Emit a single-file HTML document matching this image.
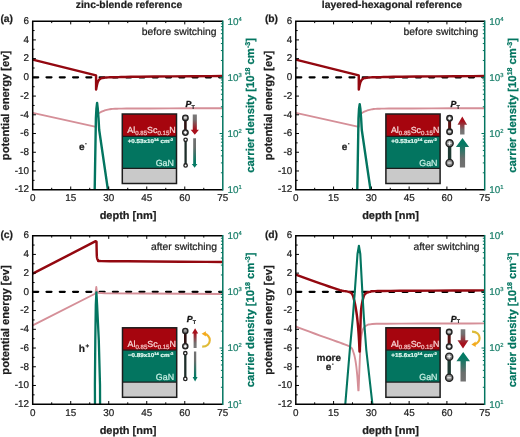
<!DOCTYPE html>
<html><head><meta charset="utf-8"><style>
html,body{margin:0;padding:0;background:#fff;}
svg{display:block;}
</style></head><body>
<svg width="520" height="437" viewBox="0 0 520 437" text-rendering="geometricPrecision" font-family='"Liberation Sans", Arial, sans-serif'>
<rect width="520" height="437" fill="#fff"/>
<defs>
<clipPath id="clipa"><rect x="32.7" y="21.2" width="190.1" height="168.5"/></clipPath>
<clipPath id="clipb"><rect x="295.8" y="21.2" width="188.9" height="168.5"/></clipPath>
<clipPath id="clipc"><rect x="32.7" y="235.7" width="190.1" height="168.5"/></clipPath>
<clipPath id="clipd"><rect x="295.8" y="235.7" width="188.9" height="168.5"/></clipPath>
<linearGradient id="gRedDown" x1="0" y1="0" x2="0" y2="1"><stop offset="0" stop-color="#7a7a7a"/><stop offset="0.25" stop-color="#747070"/><stop offset="0.75" stop-color="#a8101c"/></linearGradient>
<linearGradient id="gRedUp" x1="0" y1="1" x2="0" y2="0"><stop offset="0" stop-color="#7a7a7a"/><stop offset="0.25" stop-color="#747070"/><stop offset="0.75" stop-color="#a8101c"/></linearGradient>
<linearGradient id="gTealDown" x1="0" y1="0" x2="0" y2="1"><stop offset="0" stop-color="#727272"/><stop offset="0.3" stop-color="#6a6e6c"/><stop offset="0.8" stop-color="#057a64"/></linearGradient>
<linearGradient id="gTealUp" x1="0" y1="1" x2="0" y2="0"><stop offset="0" stop-color="#727272"/><stop offset="0.3" stop-color="#6a6e6c"/><stop offset="0.8" stop-color="#057a64"/></linearGradient>
<linearGradient id="gCurl" gradientUnits="userSpaceOnUse" x1="0" y1="0" x2="0" y2="13"><stop offset="0" stop-color="#dcbc3a"/><stop offset="1" stop-color="#f4ae22"/></linearGradient>
<radialGradient id="gAtom" cx="0.45" cy="0.4" r="0.6"><stop offset="0" stop-color="#b4b4b4"/><stop offset="1" stop-color="#5e5e5e"/></radialGradient>
</defs>
<g clip-path="url(#clipa)">
<line x1="33.27" y1="77.37" x2="222.8" y2="77.37" stroke="#000" stroke-width="2.3" stroke-linecap="round" stroke-dasharray="4.9,8.38"/>
<polyline points="32.7,112.94 96.07,126.89 96.3,114.8 96.56,115.01 96.92,114.74 97.35,114.42 97.79,114.1 98.2,113.8 98.56,113.54 98.91,113.28 99.27,113.02 99.66,112.76 100.1,112.5 100.58,112.23 101.09,111.95 101.65,111.67 102.28,111.39 103,111.1 103.82,110.8 104.71,110.47 105.69,110.15 106.75,109.86 107.9,109.6 108.97,109.39 109.96,109.21 111.13,109.05 112.72,108.92 115,108.8 117.09,108.71 118.82,108.64 121.5,108.6 126.45,108.55 135,108.5 149.63,108.44 169.45,108.37 190.75,108.3 209.77,108.24 222.8,108.2" fill="none" stroke="#d58f98" stroke-width="1.9" stroke-linejoin="round" stroke-linecap="butt" />
<polyline points="32.7,59.67 96.07,75.4 96.1,89.6 96.29,88.6 96.54,87.15 96.86,85.5 97.21,83.9 97.6,82.6 97.99,81.61 98.4,80.77 98.86,80.05 99.42,79.43 100.1,78.9 100.88,78.47 101.73,78.16 102.7,77.94 103.84,77.76 105.2,77.6 106.62,77.46 108.05,77.38 109.76,77.32 111.99,77.27 115,77.2 118.1,77.11 121.13,77.02 125.11,76.92 131.06,76.81 140,76.7 154.19,76.56 172.93,76.4 192.87,76.24 210.61,76.1 222.8,76" fill="none" stroke="#930810" stroke-width="2.45" stroke-linejoin="round" stroke-linecap="butt" />
<polyline points="94.6,195 94.7,189 95.7,130 95.9,118 96.4,109 97.1,103 97.8,109 98.5,118 99.2,130 107.8,189 108.7,195" fill="none" stroke="#037560" stroke-width="2.4" stroke-linejoin="round" stroke-linecap="butt" />
</g>
<path d="M51.71,189.7v-1.9 M51.71,21.2v1.9 M70.72,189.7v-3.2 M70.72,21.2v3.2 M89.73,189.7v-1.9 M89.73,21.2v1.9 M108.74,189.7v-3.2 M108.74,21.2v3.2 M127.75,189.7v-1.9 M127.75,21.2v1.9 M146.76,189.7v-3.2 M146.76,21.2v3.2 M165.77,189.7v-1.9 M165.77,21.2v1.9 M184.78,189.7v-3.2 M184.78,21.2v3.2 M203.79,189.7v-1.9 M203.79,21.2v1.9 M32.7,180.34h1.9 M32.7,170.98h3.2 M32.7,161.62h1.9 M32.7,152.26h3.2 M32.7,142.89h1.9 M32.7,133.53h3.2 M32.7,124.17h1.9 M32.7,114.81h3.2 M32.7,105.45h1.9 M32.7,96.09h3.2 M32.7,86.73h1.9 M32.7,77.37h3.2 M32.7,68.01h1.9 M32.7,58.64h3.2 M32.7,49.28h1.9 M32.7,39.92h3.2 M32.7,30.56h1.9" stroke="#000" stroke-width="1" fill="none"/>
<path d="M222.8,172.79h-1.9 M222.8,162.9h-1.9 M222.8,155.88h-1.9 M222.8,150.44h-1.9 M222.8,145.99h-1.9 M222.8,142.23h-1.9 M222.8,138.98h-1.9 M222.8,136.1h-1.9 M222.8,133.53h-3.2 M222.8,116.63h-1.9 M222.8,106.74h-1.9 M222.8,99.72h-1.9 M222.8,94.27h-1.9 M222.8,89.83h-1.9 M222.8,86.07h-1.9 M222.8,82.81h-1.9 M222.8,79.94h-1.9 M222.8,77.37h-3.2 M222.8,60.46h-1.9 M222.8,50.57h-1.9 M222.8,43.55h-1.9 M222.8,38.11h-1.9 M222.8,33.66h-1.9 M222.8,29.9h-1.9 M222.8,26.64h-1.9 M222.8,23.77h-1.9" stroke="#037560" stroke-width="1" fill="none"/>
<text x="29.1" y="192.45" text-anchor="end" font-size="9.9" fill="#1e1e1e" stroke="#1e1e1e" stroke-width="0.22">-12</text>
<text x="29.1" y="173.73" text-anchor="end" font-size="9.9" fill="#1e1e1e" stroke="#1e1e1e" stroke-width="0.22">-10</text>
<text x="29.1" y="155.01" text-anchor="end" font-size="9.9" fill="#1e1e1e" stroke="#1e1e1e" stroke-width="0.22">-8</text>
<text x="29.1" y="136.28" text-anchor="end" font-size="9.9" fill="#1e1e1e" stroke="#1e1e1e" stroke-width="0.22">-6</text>
<text x="29.1" y="117.56" text-anchor="end" font-size="9.9" fill="#1e1e1e" stroke="#1e1e1e" stroke-width="0.22">-4</text>
<text x="29.1" y="98.84" text-anchor="end" font-size="9.9" fill="#1e1e1e" stroke="#1e1e1e" stroke-width="0.22">-2</text>
<text x="29.1" y="80.12" text-anchor="end" font-size="9.9" fill="#1e1e1e" stroke="#1e1e1e" stroke-width="0.22">0</text>
<text x="29.1" y="61.39" text-anchor="end" font-size="9.9" fill="#1e1e1e" stroke="#1e1e1e" stroke-width="0.22">2</text>
<text x="29.1" y="42.67" text-anchor="end" font-size="9.9" fill="#1e1e1e" stroke="#1e1e1e" stroke-width="0.22">4</text>
<text x="29.1" y="23.95" text-anchor="end" font-size="9.9" fill="#1e1e1e" stroke="#1e1e1e" stroke-width="0.22">6</text>
<text x="32.7" y="201.1" text-anchor="middle" font-size="9.9" fill="#1e1e1e" stroke="#1e1e1e" stroke-width="0.22">0</text>
<text x="70.72" y="201.1" text-anchor="middle" font-size="9.9" fill="#1e1e1e" stroke="#1e1e1e" stroke-width="0.22">15</text>
<text x="108.74" y="201.1" text-anchor="middle" font-size="9.9" fill="#1e1e1e" stroke="#1e1e1e" stroke-width="0.22">30</text>
<text x="146.76" y="201.1" text-anchor="middle" font-size="9.9" fill="#1e1e1e" stroke="#1e1e1e" stroke-width="0.22">45</text>
<text x="184.78" y="201.1" text-anchor="middle" font-size="9.9" fill="#1e1e1e" stroke="#1e1e1e" stroke-width="0.22">60</text>
<text x="222.8" y="201.1" text-anchor="middle" font-size="9.9" fill="#1e1e1e" stroke="#1e1e1e" stroke-width="0.22">75</text>
<text x="227.4" y="193" font-size="9.9" fill="#1c806c" stroke="#1c806c" stroke-width="0.22">10<tspan font-size="5.8" dy="-4">1</tspan></text>
<text x="227.4" y="136.83" font-size="9.9" fill="#1c806c" stroke="#1c806c" stroke-width="0.22">10<tspan font-size="5.8" dy="-4">2</tspan></text>
<text x="227.4" y="80.67" font-size="9.9" fill="#1c806c" stroke="#1c806c" stroke-width="0.22">10<tspan font-size="5.8" dy="-4">3</tspan></text>
<text x="227.4" y="24.5" font-size="9.9" fill="#1c806c" stroke="#1c806c" stroke-width="0.22">10<tspan font-size="5.8" dy="-4">4</tspan></text>
<text x="128.05" y="219" text-anchor="middle" font-size="11" font-weight="bold" fill="#1e1e1e" stroke="#1e1e1e" stroke-width="0.22">depth [nm]</text>
<text transform="translate(9.2,105.45) rotate(-90)" text-anchor="middle" font-size="11.2" font-weight="bold" fill="#1e1e1e" stroke="#1e1e1e" stroke-width="0.22">potential energy [ev]</text>
<text transform="translate(254.4,105.4) rotate(-90)" text-anchor="middle" font-size="11.3" font-weight="bold" fill="#037560" stroke="#037560" stroke-width="0.22">carrier density [10<tspan font-size="7" dy="-4.3">18</tspan><tspan dy="4.3"> cm</tspan><tspan font-size="7" dy="-4.3">-3</tspan><tspan dy="4.3">]</tspan></text>
<path d="M222.8,21.2H32.7V189.7H222.8" fill="none" stroke="#000" stroke-width="1.5"/>
<line x1="222.8" y1="20.45" x2="222.8" y2="190.45" stroke="#037560" stroke-width="1.5"/>
<g clip-path="url(#clipb)">
<line x1="296.37" y1="77.37" x2="484.7" y2="77.37" stroke="#000" stroke-width="2.3" stroke-linecap="round" stroke-dasharray="4.9,8.38"/>
<polyline points="295.8,112.94 358.77,126.89 359,114.8 359.26,115.01 359.62,114.74 360.04,114.42 360.48,114.1 360.89,113.8 361.25,113.54 361.59,113.28 361.95,113.02 362.33,112.76 362.77,112.5 363.26,112.23 363.76,111.95 364.31,111.67 364.94,111.39 365.66,111.1 366.47,110.8 367.36,110.47 368.32,110.15 369.38,109.86 370.53,109.6 371.59,109.39 372.57,109.21 373.73,109.05 375.31,108.92 377.58,108.8 379.66,108.71 381.37,108.64 384.04,108.6 388.96,108.55 397.45,108.5 411.99,108.44 431.69,108.37 452.85,108.3 471.76,108.24 484.7,108.2" fill="none" stroke="#d58f98" stroke-width="1.9" stroke-linejoin="round" stroke-linecap="butt" />
<polyline points="295.8,59.67 358.77,75.4 358.8,89.6 358.99,88.6 359.24,87.15 359.55,85.5 359.9,83.9 360.29,82.6 360.68,81.61 361.09,80.77 361.55,80.05 362.1,79.43 362.77,78.9 363.55,78.47 364.39,78.16 365.35,77.94 366.49,77.76 367.84,77.6 369.25,77.46 370.68,77.38 372.37,77.32 374.59,77.27 377.58,77.2 380.66,77.11 383.67,77.02 387.63,76.92 393.54,76.81 402.42,76.7 416.52,76.56 435.15,76.4 454.96,76.24 472.59,76.1 484.7,76" fill="none" stroke="#930810" stroke-width="2.45" stroke-linejoin="round" stroke-linecap="butt" />
<polyline points="357.2,195 357.3,189 358.3,130 358.5,118 359,109 359.7,104.3 360.4,109 361.1,118 361.8,130 370.4,189 371.3,195" fill="none" stroke="#037560" stroke-width="2.4" stroke-linejoin="round" stroke-linecap="butt" />
</g>
<path d="M314.69,189.7v-1.9 M314.69,21.2v1.9 M333.58,189.7v-3.2 M333.58,21.2v3.2 M352.47,189.7v-1.9 M352.47,21.2v1.9 M371.36,189.7v-3.2 M371.36,21.2v3.2 M390.25,189.7v-1.9 M390.25,21.2v1.9 M409.14,189.7v-3.2 M409.14,21.2v3.2 M428.03,189.7v-1.9 M428.03,21.2v1.9 M446.92,189.7v-3.2 M446.92,21.2v3.2 M465.81,189.7v-1.9 M465.81,21.2v1.9 M295.8,180.34h1.9 M295.8,170.98h3.2 M295.8,161.62h1.9 M295.8,152.26h3.2 M295.8,142.89h1.9 M295.8,133.53h3.2 M295.8,124.17h1.9 M295.8,114.81h3.2 M295.8,105.45h1.9 M295.8,96.09h3.2 M295.8,86.73h1.9 M295.8,77.37h3.2 M295.8,68.01h1.9 M295.8,58.64h3.2 M295.8,49.28h1.9 M295.8,39.92h3.2 M295.8,30.56h1.9" stroke="#000" stroke-width="1" fill="none"/>
<path d="M484.7,172.79h-1.9 M484.7,162.9h-1.9 M484.7,155.88h-1.9 M484.7,150.44h-1.9 M484.7,145.99h-1.9 M484.7,142.23h-1.9 M484.7,138.98h-1.9 M484.7,136.1h-1.9 M484.7,133.53h-3.2 M484.7,116.63h-1.9 M484.7,106.74h-1.9 M484.7,99.72h-1.9 M484.7,94.27h-1.9 M484.7,89.83h-1.9 M484.7,86.07h-1.9 M484.7,82.81h-1.9 M484.7,79.94h-1.9 M484.7,77.37h-3.2 M484.7,60.46h-1.9 M484.7,50.57h-1.9 M484.7,43.55h-1.9 M484.7,38.11h-1.9 M484.7,33.66h-1.9 M484.7,29.9h-1.9 M484.7,26.64h-1.9 M484.7,23.77h-1.9" stroke="#037560" stroke-width="1" fill="none"/>
<text x="292.2" y="192.45" text-anchor="end" font-size="9.9" fill="#1e1e1e" stroke="#1e1e1e" stroke-width="0.22">-12</text>
<text x="292.2" y="173.73" text-anchor="end" font-size="9.9" fill="#1e1e1e" stroke="#1e1e1e" stroke-width="0.22">-10</text>
<text x="292.2" y="155.01" text-anchor="end" font-size="9.9" fill="#1e1e1e" stroke="#1e1e1e" stroke-width="0.22">-8</text>
<text x="292.2" y="136.28" text-anchor="end" font-size="9.9" fill="#1e1e1e" stroke="#1e1e1e" stroke-width="0.22">-6</text>
<text x="292.2" y="117.56" text-anchor="end" font-size="9.9" fill="#1e1e1e" stroke="#1e1e1e" stroke-width="0.22">-4</text>
<text x="292.2" y="98.84" text-anchor="end" font-size="9.9" fill="#1e1e1e" stroke="#1e1e1e" stroke-width="0.22">-2</text>
<text x="292.2" y="80.12" text-anchor="end" font-size="9.9" fill="#1e1e1e" stroke="#1e1e1e" stroke-width="0.22">0</text>
<text x="292.2" y="61.39" text-anchor="end" font-size="9.9" fill="#1e1e1e" stroke="#1e1e1e" stroke-width="0.22">2</text>
<text x="292.2" y="42.67" text-anchor="end" font-size="9.9" fill="#1e1e1e" stroke="#1e1e1e" stroke-width="0.22">4</text>
<text x="292.2" y="23.95" text-anchor="end" font-size="9.9" fill="#1e1e1e" stroke="#1e1e1e" stroke-width="0.22">6</text>
<text x="295.8" y="201.1" text-anchor="middle" font-size="9.9" fill="#1e1e1e" stroke="#1e1e1e" stroke-width="0.22">0</text>
<text x="333.58" y="201.1" text-anchor="middle" font-size="9.9" fill="#1e1e1e" stroke="#1e1e1e" stroke-width="0.22">15</text>
<text x="371.36" y="201.1" text-anchor="middle" font-size="9.9" fill="#1e1e1e" stroke="#1e1e1e" stroke-width="0.22">30</text>
<text x="409.14" y="201.1" text-anchor="middle" font-size="9.9" fill="#1e1e1e" stroke="#1e1e1e" stroke-width="0.22">45</text>
<text x="446.92" y="201.1" text-anchor="middle" font-size="9.9" fill="#1e1e1e" stroke="#1e1e1e" stroke-width="0.22">60</text>
<text x="484.7" y="201.1" text-anchor="middle" font-size="9.9" fill="#1e1e1e" stroke="#1e1e1e" stroke-width="0.22">75</text>
<text x="489.3" y="193" font-size="9.9" fill="#1c806c" stroke="#1c806c" stroke-width="0.22">10<tspan font-size="5.8" dy="-4">1</tspan></text>
<text x="489.3" y="136.83" font-size="9.9" fill="#1c806c" stroke="#1c806c" stroke-width="0.22">10<tspan font-size="5.8" dy="-4">2</tspan></text>
<text x="489.3" y="80.67" font-size="9.9" fill="#1c806c" stroke="#1c806c" stroke-width="0.22">10<tspan font-size="5.8" dy="-4">3</tspan></text>
<text x="489.3" y="24.5" font-size="9.9" fill="#1c806c" stroke="#1c806c" stroke-width="0.22">10<tspan font-size="5.8" dy="-4">4</tspan></text>
<text x="390.55" y="219" text-anchor="middle" font-size="11" font-weight="bold" fill="#1e1e1e" stroke="#1e1e1e" stroke-width="0.22">depth [nm]</text>
<text transform="translate(272.3,105.45) rotate(-90)" text-anchor="middle" font-size="11.2" font-weight="bold" fill="#1e1e1e" stroke="#1e1e1e" stroke-width="0.22">potential energy [ev]</text>
<text transform="translate(516.3,105.4) rotate(-90)" text-anchor="middle" font-size="11.3" font-weight="bold" fill="#037560" stroke="#037560" stroke-width="0.22">carrier density [10<tspan font-size="7" dy="-4.3">18</tspan><tspan dy="4.3"> cm</tspan><tspan font-size="7" dy="-4.3">-3</tspan><tspan dy="4.3">]</tspan></text>
<path d="M484.7,21.2H295.8V189.7H484.7" fill="none" stroke="#000" stroke-width="1.5"/>
<line x1="484.7" y1="20.45" x2="484.7" y2="190.45" stroke="#037560" stroke-width="1.5"/>
<g clip-path="url(#clipc)">
<line x1="33.27" y1="291.87" x2="222.8" y2="291.87" stroke="#000" stroke-width="2.3" stroke-linecap="round" stroke-dasharray="4.9,8.38"/>
<polyline points="32.7,325.47 95.5,293.5 96.3,287 96.8,291.3 98,292.7 105,293.2 222.8,294" fill="none" stroke="#d58f98" stroke-width="1.9" stroke-linejoin="round" stroke-linecap="butt" />
<polyline points="32.7,273.61 95.7,241.2 96.5,241.8 96.53,243.26 96.56,245.37 96.6,247.77 96.65,250.1 96.7,252 96.74,253.45 96.78,254.67 96.82,255.73 96.89,256.65 97,257.5 97.14,258.25 97.3,258.87 97.49,259.39 97.72,259.83 98,260.2 98.21,260.49 98.34,260.69 98.58,260.81 99.07,260.91 100,261 99.84,261.07 98.49,261.09 98.21,261.11 101.29,261.13 110,261.2 127.79,261.33 153.13,261.52 180.87,261.71 205.81,261.88 222.8,262" fill="none" stroke="#930810" stroke-width="2.45" stroke-linejoin="round" stroke-linecap="butt" />
<polyline points="95,410 94.9,385 95.3,340 95.8,305 96.4,292.3 97.1,305 98.8,340 100,385 100.1,410" fill="none" stroke="#037560" stroke-width="2.3" stroke-linejoin="round" stroke-linecap="butt" />
</g>
<path d="M51.71,404.2v-1.9 M51.71,235.7v1.9 M70.72,404.2v-3.2 M70.72,235.7v3.2 M89.73,404.2v-1.9 M89.73,235.7v1.9 M108.74,404.2v-3.2 M108.74,235.7v3.2 M127.75,404.2v-1.9 M127.75,235.7v1.9 M146.76,404.2v-3.2 M146.76,235.7v3.2 M165.77,404.2v-1.9 M165.77,235.7v1.9 M184.78,404.2v-3.2 M184.78,235.7v3.2 M203.79,404.2v-1.9 M203.79,235.7v1.9 M32.7,394.84h1.9 M32.7,385.48h3.2 M32.7,376.12h1.9 M32.7,366.76h3.2 M32.7,357.39h1.9 M32.7,348.03h3.2 M32.7,338.67h1.9 M32.7,329.31h3.2 M32.7,319.95h1.9 M32.7,310.59h3.2 M32.7,301.23h1.9 M32.7,291.87h3.2 M32.7,282.51h1.9 M32.7,273.14h3.2 M32.7,263.78h1.9 M32.7,254.42h3.2 M32.7,245.06h1.9" stroke="#000" stroke-width="1" fill="none"/>
<path d="M222.8,387.29h-1.9 M222.8,377.4h-1.9 M222.8,370.38h-1.9 M222.8,364.94h-1.9 M222.8,360.49h-1.9 M222.8,356.73h-1.9 M222.8,353.48h-1.9 M222.8,350.6h-1.9 M222.8,348.03h-3.2 M222.8,331.13h-1.9 M222.8,321.24h-1.9 M222.8,314.22h-1.9 M222.8,308.77h-1.9 M222.8,304.33h-1.9 M222.8,300.57h-1.9 M222.8,297.31h-1.9 M222.8,294.44h-1.9 M222.8,291.87h-3.2 M222.8,274.96h-1.9 M222.8,265.07h-1.9 M222.8,258.05h-1.9 M222.8,252.61h-1.9 M222.8,248.16h-1.9 M222.8,244.4h-1.9 M222.8,241.14h-1.9 M222.8,238.27h-1.9" stroke="#037560" stroke-width="1" fill="none"/>
<text x="29.1" y="406.95" text-anchor="end" font-size="9.9" fill="#1e1e1e" stroke="#1e1e1e" stroke-width="0.22">-12</text>
<text x="29.1" y="388.23" text-anchor="end" font-size="9.9" fill="#1e1e1e" stroke="#1e1e1e" stroke-width="0.22">-10</text>
<text x="29.1" y="369.51" text-anchor="end" font-size="9.9" fill="#1e1e1e" stroke="#1e1e1e" stroke-width="0.22">-8</text>
<text x="29.1" y="350.78" text-anchor="end" font-size="9.9" fill="#1e1e1e" stroke="#1e1e1e" stroke-width="0.22">-6</text>
<text x="29.1" y="332.06" text-anchor="end" font-size="9.9" fill="#1e1e1e" stroke="#1e1e1e" stroke-width="0.22">-4</text>
<text x="29.1" y="313.34" text-anchor="end" font-size="9.9" fill="#1e1e1e" stroke="#1e1e1e" stroke-width="0.22">-2</text>
<text x="29.1" y="294.62" text-anchor="end" font-size="9.9" fill="#1e1e1e" stroke="#1e1e1e" stroke-width="0.22">0</text>
<text x="29.1" y="275.89" text-anchor="end" font-size="9.9" fill="#1e1e1e" stroke="#1e1e1e" stroke-width="0.22">2</text>
<text x="29.1" y="257.17" text-anchor="end" font-size="9.9" fill="#1e1e1e" stroke="#1e1e1e" stroke-width="0.22">4</text>
<text x="29.1" y="238.45" text-anchor="end" font-size="9.9" fill="#1e1e1e" stroke="#1e1e1e" stroke-width="0.22">6</text>
<text x="32.7" y="415.6" text-anchor="middle" font-size="9.9" fill="#1e1e1e" stroke="#1e1e1e" stroke-width="0.22">0</text>
<text x="70.72" y="415.6" text-anchor="middle" font-size="9.9" fill="#1e1e1e" stroke="#1e1e1e" stroke-width="0.22">15</text>
<text x="108.74" y="415.6" text-anchor="middle" font-size="9.9" fill="#1e1e1e" stroke="#1e1e1e" stroke-width="0.22">30</text>
<text x="146.76" y="415.6" text-anchor="middle" font-size="9.9" fill="#1e1e1e" stroke="#1e1e1e" stroke-width="0.22">45</text>
<text x="184.78" y="415.6" text-anchor="middle" font-size="9.9" fill="#1e1e1e" stroke="#1e1e1e" stroke-width="0.22">60</text>
<text x="222.8" y="415.6" text-anchor="middle" font-size="9.9" fill="#1e1e1e" stroke="#1e1e1e" stroke-width="0.22">75</text>
<text x="227.4" y="407.5" font-size="9.9" fill="#1c806c" stroke="#1c806c" stroke-width="0.22">10<tspan font-size="5.8" dy="-4">1</tspan></text>
<text x="227.4" y="351.33" font-size="9.9" fill="#1c806c" stroke="#1c806c" stroke-width="0.22">10<tspan font-size="5.8" dy="-4">2</tspan></text>
<text x="227.4" y="295.17" font-size="9.9" fill="#1c806c" stroke="#1c806c" stroke-width="0.22">10<tspan font-size="5.8" dy="-4">3</tspan></text>
<text x="227.4" y="239" font-size="9.9" fill="#1c806c" stroke="#1c806c" stroke-width="0.22">10<tspan font-size="5.8" dy="-4">4</tspan></text>
<text x="128.05" y="433.5" text-anchor="middle" font-size="11" font-weight="bold" fill="#1e1e1e" stroke="#1e1e1e" stroke-width="0.22">depth [nm]</text>
<text transform="translate(9.2,319.95) rotate(-90)" text-anchor="middle" font-size="11.2" font-weight="bold" fill="#1e1e1e" stroke="#1e1e1e" stroke-width="0.22">potential energy [ev]</text>
<text transform="translate(254.4,319.9) rotate(-90)" text-anchor="middle" font-size="11.3" font-weight="bold" fill="#037560" stroke="#037560" stroke-width="0.22">carrier density [10<tspan font-size="7" dy="-4.3">18</tspan><tspan dy="4.3"> cm</tspan><tspan font-size="7" dy="-4.3">-3</tspan><tspan dy="4.3">]</tspan></text>
<path d="M222.8,235.7H32.7V404.2H222.8" fill="none" stroke="#000" stroke-width="1.5"/>
<line x1="222.8" y1="234.95" x2="222.8" y2="404.95" stroke="#037560" stroke-width="1.5"/>
<g clip-path="url(#clipd)">
<line x1="296.37" y1="291.87" x2="484.7" y2="291.87" stroke="#000" stroke-width="2.3" stroke-linecap="round" stroke-dasharray="4.9,8.38"/>
<polyline points="295.8,326.5 299.16,327.77 303.94,329.58 309.46,331.67 315.04,333.76 320,335.6 324.42,337.19 328.76,338.71 332.89,340.15 336.68,341.48 340,342.7 342.83,343.74 345.24,344.61 347.3,345.4 349.03,346.2 350.5,347.1 351.59,348.06 352.28,349.02 352.72,350.03 353.08,351.17 353.5,352.5 353.99,354 354.43,355.62 354.84,357.4 355.23,359.35 355.6,361.5 355.96,363.88 356.3,366.48 356.62,369.25 356.92,372.11 357.2,375 357.47,378.2 357.73,381.76 357.96,385.26 358.16,388.28 358.3,390.4 358.6,390.4 358.73,386.92 358.92,382 359.14,376.28 359.37,370.4 359.6,365 359.82,359.87 360.06,354.58 360.3,349.45 360.54,344.82 360.8,341 361.06,338.17 361.33,336.1 361.6,334.56 361.89,333.27 362.2,332 362.52,330.78 362.83,329.77 363.17,328.93 363.56,328.19 364,327.5 364.52,326.88 365.11,326.35 365.74,325.91 366.38,325.53 367,325.2 367.41,324.94 367.62,324.77 367.94,324.64 368.63,324.53 370,324.4 370.88,324.25 371.07,324.09 372.33,323.95 376.39,323.81 385,323.7 401.11,323.61 423.57,323.54 447.93,323.48 469.79,323.43 484.7,323.4" fill="none" stroke="#d58f98" stroke-width="1.9" stroke-linejoin="round" stroke-linecap="butt" />
<polyline points="295.8,274.6 299.16,275.83 303.94,277.59 309.46,279.61 315.04,281.63 320,283.4 324.48,284.96 328.94,286.49 333.16,287.91 336.92,289.14 340,290.1 342.23,290.71 343.76,291.01 344.85,291.14 345.74,291.23 346.7,291.4 347.72,291.64 348.63,291.85 349.44,292.08 350.16,292.35 350.8,292.7 351.35,293.12 351.78,293.59 352.15,294.12 352.48,294.72 352.8,295.4 353.1,296.17 353.37,297.01 353.61,297.93 353.84,298.93 354.1,300 354.37,301.1 354.64,302.22 354.91,303.45 355.2,304.85 355.5,306.5 355.83,308.46 356.18,310.67 356.54,313.05 356.89,315.52 357.2,318 357.48,320.54 357.74,323.19 357.98,325.87 358.2,328.5 358.4,331 358.58,333.35 358.73,335.62 358.87,337.81 358.99,339.93 359.1,342 359.21,344.13 359.3,346.33 359.38,348.39 359.45,350.15 359.5,351.4 359.7,351.4 359.78,348.45 359.89,344.26 360.02,339.4 360.16,334.46 360.3,330 360.43,325.91 360.55,321.81 360.68,317.87 360.83,314.27 361,311.2 361.21,308.75 361.45,306.79 361.7,305.19 361.96,303.81 362.2,302.5 362.43,301.31 362.65,300.34 362.86,299.5 363.08,298.75 363.3,298 363.5,297.26 363.67,296.57 363.86,295.94 364.09,295.35 364.4,294.8 364.8,294.29 365.26,293.83 365.77,293.41 366.32,293.03 366.9,292.7 367.5,292.42 368.13,292.2 368.8,292.02 369.52,291.86 370.3,291.7 370.83,291.55 371.11,291.42 371.6,291.3 372.74,291.19 375,291.1 377.75,291.02 380.67,290.96 384.73,290.91 390.85,290.86 400,290.8 414.47,290.72 433.65,290.63 454.05,290.54 472.23,290.46 484.7,290.4" fill="none" stroke="#930810" stroke-width="2.45" stroke-linejoin="round" stroke-linecap="butt" />
<polyline points="344.8,410 345.3,404 349.8,350 352.8,318 354.7,293 357.5,254 358.9,245.7 360.3,254 362.4,293 363.9,318 366.3,350 372.4,404 372.9,410" fill="none" stroke="#037560" stroke-width="2.1" stroke-linejoin="round" stroke-linecap="butt" />
</g>
<path d="M314.69,404.2v-1.9 M314.69,235.7v1.9 M333.58,404.2v-3.2 M333.58,235.7v3.2 M352.47,404.2v-1.9 M352.47,235.7v1.9 M371.36,404.2v-3.2 M371.36,235.7v3.2 M390.25,404.2v-1.9 M390.25,235.7v1.9 M409.14,404.2v-3.2 M409.14,235.7v3.2 M428.03,404.2v-1.9 M428.03,235.7v1.9 M446.92,404.2v-3.2 M446.92,235.7v3.2 M465.81,404.2v-1.9 M465.81,235.7v1.9 M295.8,394.84h1.9 M295.8,385.48h3.2 M295.8,376.12h1.9 M295.8,366.76h3.2 M295.8,357.39h1.9 M295.8,348.03h3.2 M295.8,338.67h1.9 M295.8,329.31h3.2 M295.8,319.95h1.9 M295.8,310.59h3.2 M295.8,301.23h1.9 M295.8,291.87h3.2 M295.8,282.51h1.9 M295.8,273.14h3.2 M295.8,263.78h1.9 M295.8,254.42h3.2 M295.8,245.06h1.9" stroke="#000" stroke-width="1" fill="none"/>
<path d="M484.7,387.29h-1.9 M484.7,377.4h-1.9 M484.7,370.38h-1.9 M484.7,364.94h-1.9 M484.7,360.49h-1.9 M484.7,356.73h-1.9 M484.7,353.48h-1.9 M484.7,350.6h-1.9 M484.7,348.03h-3.2 M484.7,331.13h-1.9 M484.7,321.24h-1.9 M484.7,314.22h-1.9 M484.7,308.77h-1.9 M484.7,304.33h-1.9 M484.7,300.57h-1.9 M484.7,297.31h-1.9 M484.7,294.44h-1.9 M484.7,291.87h-3.2 M484.7,274.96h-1.9 M484.7,265.07h-1.9 M484.7,258.05h-1.9 M484.7,252.61h-1.9 M484.7,248.16h-1.9 M484.7,244.4h-1.9 M484.7,241.14h-1.9 M484.7,238.27h-1.9" stroke="#037560" stroke-width="1" fill="none"/>
<text x="292.2" y="406.95" text-anchor="end" font-size="9.9" fill="#1e1e1e" stroke="#1e1e1e" stroke-width="0.22">-12</text>
<text x="292.2" y="388.23" text-anchor="end" font-size="9.9" fill="#1e1e1e" stroke="#1e1e1e" stroke-width="0.22">-10</text>
<text x="292.2" y="369.51" text-anchor="end" font-size="9.9" fill="#1e1e1e" stroke="#1e1e1e" stroke-width="0.22">-8</text>
<text x="292.2" y="350.78" text-anchor="end" font-size="9.9" fill="#1e1e1e" stroke="#1e1e1e" stroke-width="0.22">-6</text>
<text x="292.2" y="332.06" text-anchor="end" font-size="9.9" fill="#1e1e1e" stroke="#1e1e1e" stroke-width="0.22">-4</text>
<text x="292.2" y="313.34" text-anchor="end" font-size="9.9" fill="#1e1e1e" stroke="#1e1e1e" stroke-width="0.22">-2</text>
<text x="292.2" y="294.62" text-anchor="end" font-size="9.9" fill="#1e1e1e" stroke="#1e1e1e" stroke-width="0.22">0</text>
<text x="292.2" y="275.89" text-anchor="end" font-size="9.9" fill="#1e1e1e" stroke="#1e1e1e" stroke-width="0.22">2</text>
<text x="292.2" y="257.17" text-anchor="end" font-size="9.9" fill="#1e1e1e" stroke="#1e1e1e" stroke-width="0.22">4</text>
<text x="292.2" y="238.45" text-anchor="end" font-size="9.9" fill="#1e1e1e" stroke="#1e1e1e" stroke-width="0.22">6</text>
<text x="295.8" y="415.6" text-anchor="middle" font-size="9.9" fill="#1e1e1e" stroke="#1e1e1e" stroke-width="0.22">0</text>
<text x="333.58" y="415.6" text-anchor="middle" font-size="9.9" fill="#1e1e1e" stroke="#1e1e1e" stroke-width="0.22">15</text>
<text x="371.36" y="415.6" text-anchor="middle" font-size="9.9" fill="#1e1e1e" stroke="#1e1e1e" stroke-width="0.22">30</text>
<text x="409.14" y="415.6" text-anchor="middle" font-size="9.9" fill="#1e1e1e" stroke="#1e1e1e" stroke-width="0.22">45</text>
<text x="446.92" y="415.6" text-anchor="middle" font-size="9.9" fill="#1e1e1e" stroke="#1e1e1e" stroke-width="0.22">60</text>
<text x="484.7" y="415.6" text-anchor="middle" font-size="9.9" fill="#1e1e1e" stroke="#1e1e1e" stroke-width="0.22">75</text>
<text x="489.3" y="407.5" font-size="9.9" fill="#1c806c" stroke="#1c806c" stroke-width="0.22">10<tspan font-size="5.8" dy="-4">1</tspan></text>
<text x="489.3" y="351.33" font-size="9.9" fill="#1c806c" stroke="#1c806c" stroke-width="0.22">10<tspan font-size="5.8" dy="-4">2</tspan></text>
<text x="489.3" y="295.17" font-size="9.9" fill="#1c806c" stroke="#1c806c" stroke-width="0.22">10<tspan font-size="5.8" dy="-4">3</tspan></text>
<text x="489.3" y="239" font-size="9.9" fill="#1c806c" stroke="#1c806c" stroke-width="0.22">10<tspan font-size="5.8" dy="-4">4</tspan></text>
<text x="390.55" y="433.5" text-anchor="middle" font-size="11" font-weight="bold" fill="#1e1e1e" stroke="#1e1e1e" stroke-width="0.22">depth [nm]</text>
<text transform="translate(272.3,319.95) rotate(-90)" text-anchor="middle" font-size="11.2" font-weight="bold" fill="#1e1e1e" stroke="#1e1e1e" stroke-width="0.22">potential energy [ev]</text>
<text transform="translate(516.3,319.9) rotate(-90)" text-anchor="middle" font-size="11.3" font-weight="bold" fill="#037560" stroke="#037560" stroke-width="0.22">carrier density [10<tspan font-size="7" dy="-4.3">18</tspan><tspan dy="4.3"> cm</tspan><tspan font-size="7" dy="-4.3">-3</tspan><tspan dy="4.3">]</tspan></text>
<path d="M484.7,235.7H295.8V404.2H484.7" fill="none" stroke="#000" stroke-width="1.5"/>
<line x1="484.7" y1="234.95" x2="484.7" y2="404.95" stroke="#037560" stroke-width="1.5"/>
<g>
<rect x="122.3" y="114" width="54.2" height="22.4" fill="#a6050e"/>
<rect x="122.3" y="136.4" width="54.2" height="32" fill="#037560"/>
<rect x="122.3" y="168.4" width="54.2" height="15.1" fill="#c9c9c9"/>
<path d="M122.3,136.4H176.5 M122.3,168.4H176.5" stroke="#1c1c1c" stroke-width="1.3"/>
<rect x="122.3" y="114" width="54.2" height="69.5" fill="none" stroke="#1c1c1c" stroke-width="1.5"/>
<text x="127.3" y="133" font-size="8.9" fill="#f9d8d8" stroke="#f9d8d8" stroke-width="0.22">Al<tspan font-size="6.1" dy="1.7" fill="#eea4a4">0.85</tspan><tspan dy="-1.7">Sc</tspan><tspan font-size="6.1" dy="1.7" fill="#eea4a4">0.15</tspan><tspan dy="-1.7">N</tspan></text>
<text x="127.7" y="143.3" font-size="5.7" font-weight="bold" fill="#e0f8f0" textLength="45.5" lengthAdjust="spacingAndGlyphs" stroke="#e0f8f0" stroke-width="0.22">+0.53x10<tspan font-size="3.8" dy="-2.2">14</tspan><tspan dy="2.2"> cm</tspan><tspan font-size="3.8" dy="-2.2">-2</tspan></text>
<text x="173.9" y="166.3" text-anchor="end" font-size="8.9" fill="#c8f0e4" stroke="#c8f0e4" stroke-width="0.22">GaN</text>
</g>
<g>
<rect x="385.9" y="114" width="54.2" height="22.4" fill="#a6050e"/>
<rect x="385.9" y="136.4" width="54.2" height="32" fill="#037560"/>
<rect x="385.9" y="168.4" width="54.2" height="15.1" fill="#c9c9c9"/>
<path d="M385.9,136.4H440.1 M385.9,168.4H440.1" stroke="#1c1c1c" stroke-width="1.3"/>
<rect x="385.9" y="114" width="54.2" height="69.5" fill="none" stroke="#1c1c1c" stroke-width="1.5"/>
<text x="390.9" y="133" font-size="8.9" fill="#f9d8d8" stroke="#f9d8d8" stroke-width="0.22">Al<tspan font-size="6.1" dy="1.7" fill="#eea4a4">0.85</tspan><tspan dy="-1.7">Sc</tspan><tspan font-size="6.1" dy="1.7" fill="#eea4a4">0.15</tspan><tspan dy="-1.7">N</tspan></text>
<text x="391.3" y="143.3" font-size="5.7" font-weight="bold" fill="#e0f8f0" textLength="45.5" lengthAdjust="spacingAndGlyphs" stroke="#e0f8f0" stroke-width="0.22">+0.53x10<tspan font-size="3.8" dy="-2.2">14</tspan><tspan dy="2.2"> cm</tspan><tspan font-size="3.8" dy="-2.2">-2</tspan></text>
<text x="437.5" y="166.3" text-anchor="end" font-size="8.9" fill="#c8f0e4" stroke="#c8f0e4" stroke-width="0.22">GaN</text>
</g>
<g>
<rect x="122.5" y="327.8" width="54.2" height="22.4" fill="#a6050e"/>
<rect x="122.5" y="350.2" width="54.2" height="32" fill="#037560"/>
<rect x="122.5" y="382.2" width="54.2" height="15.1" fill="#c9c9c9"/>
<path d="M122.5,350.2H176.7 M122.5,382.2H176.7" stroke="#1c1c1c" stroke-width="1.3"/>
<rect x="122.5" y="327.8" width="54.2" height="69.5" fill="none" stroke="#1c1c1c" stroke-width="1.5"/>
<text x="127.5" y="346.8" font-size="8.9" fill="#f9d8d8" stroke="#f9d8d8" stroke-width="0.22">Al<tspan font-size="6.1" dy="1.7" fill="#eea4a4">0.85</tspan><tspan dy="-1.7">Sc</tspan><tspan font-size="6.1" dy="1.7" fill="#eea4a4">0.15</tspan><tspan dy="-1.7">N</tspan></text>
<text x="127.9" y="357.1" font-size="5.7" font-weight="bold" fill="#e0f8f0" textLength="45.5" lengthAdjust="spacingAndGlyphs" stroke="#e0f8f0" stroke-width="0.22">−0.89x10<tspan font-size="3.8" dy="-2.2">14</tspan><tspan dy="2.2"> cm</tspan><tspan font-size="3.8" dy="-2.2">-2</tspan></text>
<text x="174.1" y="380.1" text-anchor="end" font-size="8.9" fill="#c8f0e4" stroke="#c8f0e4" stroke-width="0.22">GaN</text>
</g>
<g>
<rect x="385.9" y="327.8" width="54.2" height="22.4" fill="#a6050e"/>
<rect x="385.9" y="350.2" width="54.2" height="32" fill="#037560"/>
<rect x="385.9" y="382.2" width="54.2" height="15.1" fill="#c9c9c9"/>
<path d="M385.9,350.2H440.1 M385.9,382.2H440.1" stroke="#1c1c1c" stroke-width="1.3"/>
<rect x="385.9" y="327.8" width="54.2" height="69.5" fill="none" stroke="#1c1c1c" stroke-width="1.5"/>
<text x="390.9" y="346.8" font-size="8.9" fill="#f9d8d8" stroke="#f9d8d8" stroke-width="0.22">Al<tspan font-size="6.1" dy="1.7" fill="#eea4a4">0.85</tspan><tspan dy="-1.7">Sc</tspan><tspan font-size="6.1" dy="1.7" fill="#eea4a4">0.15</tspan><tspan dy="-1.7">N</tspan></text>
<text x="391.3" y="357.1" font-size="5.7" font-weight="bold" fill="#e0f8f0" textLength="45.5" lengthAdjust="spacingAndGlyphs" stroke="#e0f8f0" stroke-width="0.22">+15.6x10<tspan font-size="3.8" dy="-2.2">14</tspan><tspan dy="2.2"> cm</tspan><tspan font-size="3.8" dy="-2.2">-2</tspan></text>
<text x="437.5" y="380.1" text-anchor="end" font-size="8.9" fill="#c8f0e4" stroke="#c8f0e4" stroke-width="0.22">GaN</text>
</g>
<text x="185.6" y="107.2" font-size="8.8" font-weight="bold" font-style="italic" fill="#151515" stroke="#151515" stroke-width="0.35">P<tspan font-size="5.4" dy="1.9" font-style="normal" stroke-width="0.15">T</tspan></text>
<line x1="185.4" y1="117.9" x2="185.4" y2="132.6" stroke="#2e1212" stroke-width="2.6"/>
<circle cx="185.4" cy="117.9" r="2.75" fill="url(#gAtom)" stroke="#222" stroke-width="1.35"/>
<path d="M183.89,117.9h3.03" stroke="#fff" stroke-width="0.9"/>
<circle cx="185.4" cy="132.6" r="2.75" fill="url(#gAtom)" stroke="#222" stroke-width="1.35"/>
<path d="M183.89,132.6h3.03 M185.4,131.09v3.03" stroke="#fff" stroke-width="0.9"/>
<line x1="185.6" y1="139.8" x2="185.6" y2="165.4" stroke="#1e2e2a" stroke-width="2.3"/>
<circle cx="185.6" cy="139.8" r="1.7" fill="#fff" stroke="#222" stroke-width="1.35"/>
<circle cx="185.6" cy="165.4" r="1.7" fill="#fff" stroke="#222" stroke-width="1.35"/>
<polygon points="192.75,114.5 192.75,129.7 190.7,129.7 194.8,134.7 198.9,129.7 196.85,129.7 196.85,114.5" fill="url(#gRedDown)"/>
<polygon points="193.2,138.2 193.2,164 191.8,164 194.6,167.8 197.4,164 196,164 196,138.2" fill="url(#gTealDown)"/>
<text x="450.6" y="107" font-size="8.8" font-weight="bold" font-style="italic" fill="#151515" stroke="#151515" stroke-width="0.35">P<tspan font-size="5.4" dy="1.9" font-style="normal" stroke-width="0.15">T</tspan></text>
<line x1="449.6" y1="118.3" x2="449.6" y2="131.8" stroke="#5a1212" stroke-width="3"/>
<circle cx="449.6" cy="118.3" r="2.8" fill="url(#gAtom)" stroke="#222" stroke-width="1.35"/>
<path d="M448.06,118.3h3.08 M449.6,116.76v3.08" stroke="#fff" stroke-width="0.9"/>
<circle cx="449.6" cy="131.8" r="2.8" fill="url(#gAtom)" stroke="#222" stroke-width="1.35"/>
<path d="M448.06,131.8h3.08" stroke="#fff" stroke-width="0.9"/>
<line x1="449.6" y1="143.3" x2="449.6" y2="163" stroke="#1e3a33" stroke-width="3.4"/>
<circle cx="449.6" cy="143.3" r="3.6" fill="url(#gAtom)" stroke="#222" stroke-width="1.35"/>
<path d="M447.62,143.3h3.96 M449.6,141.32v3.96" stroke="#fff" stroke-width="0.9"/>
<circle cx="449.6" cy="163" r="3.6" fill="url(#gAtom)" stroke="#222" stroke-width="1.35"/>
<path d="M447.62,163h3.96" stroke="#fff" stroke-width="0.9"/>
<polygon points="460.1,134.6 460.1,124.8 457.5,124.8 462.3,116.6 467.1,124.8 464.5,124.8 464.5,134.6" fill="url(#gRedUp)"/>
<polygon points="459.9,167.4 459.9,147 455.9,147 462.5,138 469.1,147 465.1,147 465.1,167.4" fill="url(#gTealUp)"/>
<text x="186.8" y="322" font-size="8.8" font-weight="bold" font-style="italic" fill="#151515" stroke="#151515" stroke-width="0.35">P<tspan font-size="5.4" dy="1.9" font-style="normal" stroke-width="0.15">T</tspan></text>
<line x1="185.3" y1="330.9" x2="185.3" y2="346.3" stroke="#2e1212" stroke-width="2.6"/>
<circle cx="185.3" cy="330.9" r="2.6" fill="url(#gAtom)" stroke="#222" stroke-width="1.35"/>
<circle cx="185.3" cy="346.3" r="2.6" fill="url(#gAtom)" stroke="#222" stroke-width="1.35"/>
<path d="M183.87,346.3h2.86 M185.3,344.87v2.86" stroke="#fff" stroke-width="0.9"/>
<line x1="185.3" y1="353.2" x2="185.3" y2="378.9" stroke="#1e2e2a" stroke-width="2.3"/>
<circle cx="185.3" cy="353.2" r="1.7" fill="#fff" stroke="#222" stroke-width="1.35"/>
<circle cx="185.3" cy="378.9" r="1.7" fill="#fff" stroke="#222" stroke-width="1.35"/>
<polygon points="193.6,348 193.6,333.4 192,333.4 195.1,328.2 198.2,333.4 196.6,333.4 196.6,348" fill="url(#gRedUp)"/>
<polygon points="193.95,351.5 193.95,377.1 192.6,377.1 195.1,381.6 197.6,377.1 196.25,377.1 196.25,351.5" fill="url(#gTealDown)"/>
<g transform="translate(202.2,346.6) scale(1,-1)">
<path d="M0,0 c5,0 7.6,3 7.6,6.3 c0,3.3 -2.6,6.0 -5.0,6.4" fill="none" stroke="url(#gCurl)" stroke-width="2.1"/>
<polygon points="-0.6,12.8 3.7,10.0 3.7,15.4" fill="#f4aa1e"/>
</g>
<text x="450.8" y="321.5" font-size="8.8" font-weight="bold" font-style="italic" fill="#151515" stroke="#151515" stroke-width="0.35">P<tspan font-size="5.4" dy="1.9" font-style="normal" stroke-width="0.15">T</tspan></text>
<line x1="449.2" y1="332" x2="449.2" y2="346.6" stroke="#5a1212" stroke-width="3"/>
<circle cx="449.2" cy="332" r="2.8" fill="url(#gAtom)" stroke="#222" stroke-width="1.35"/>
<path d="M447.66,332h3.08" stroke="#fff" stroke-width="0.9"/>
<circle cx="449.2" cy="346.6" r="2.8" fill="url(#gAtom)" stroke="#222" stroke-width="1.35"/>
<path d="M447.66,346.6h3.08 M449.2,345.06v3.08" stroke="#fff" stroke-width="0.9"/>
<line x1="449.2" y1="356.7" x2="449.2" y2="377.8" stroke="#1e3a33" stroke-width="3.4"/>
<circle cx="449.2" cy="356.7" r="3.6" fill="url(#gAtom)" stroke="#222" stroke-width="1.35"/>
<path d="M447.22,356.7h3.96 M449.2,354.72v3.96" stroke="#fff" stroke-width="0.9"/>
<circle cx="449.2" cy="377.8" r="3.6" fill="url(#gAtom)" stroke="#222" stroke-width="1.35"/>
<path d="M447.22,377.8h3.96" stroke="#fff" stroke-width="0.9"/>
<polygon points="460.7,329.2 460.7,340.2 457.5,340.2 463,348.6 468.5,340.2 465.3,340.2 465.3,329.2" fill="url(#gRedDown)"/>
<polygon points="460.5,381.5 460.5,361.2 456.4,361.2 463.2,352 470,361.2 465.9,361.2 465.9,381.5" fill="url(#gTealUp)"/>
<g transform="translate(472,331.6)">
<path d="M0,0 c5,0 7.6,3 7.6,6.3 c0,3.3 -2.6,6.0 -5.0,6.4" fill="none" stroke="url(#gCurl)" stroke-width="2.1"/>
<polygon points="-0.6,12.8 3.7,10.0 3.7,15.4" fill="#f4aa1e"/>
</g>
<text x="216.6" y="34.7" text-anchor="end" font-size="10.35" fill="#1e1e1e" stroke="#1e1e1e" stroke-width="0.22">before switching</text>
<text x="478.3" y="34.6" text-anchor="end" font-size="10.35" fill="#1e1e1e" stroke="#1e1e1e" stroke-width="0.22">before switching</text>
<text x="217.1" y="250.2" text-anchor="end" font-size="10.35" fill="#1e1e1e" stroke="#1e1e1e" stroke-width="0.22">after switching</text>
<text x="479.5" y="250.1" text-anchor="end" font-size="10.35" fill="#1e1e1e" stroke="#1e1e1e" stroke-width="0.22">after switching</text>
<text x="78.9" y="149.6" font-size="10" font-weight="bold" fill="#1e1e1e" stroke="#1e1e1e" stroke-width="0.22">e</text>
<rect x="85.2" y="143.2" width="1.4" height="1.1" fill="#1e1e1e"/>
<text x="341.7" y="149.6" font-size="10" font-weight="bold" fill="#1e1e1e" stroke="#1e1e1e" stroke-width="0.22">e</text>
<rect x="348" y="143.2" width="1.4" height="1.1" fill="#1e1e1e"/>
<text x="325.8" y="370" font-size="10" font-weight="bold" fill="#1e1e1e" stroke="#1e1e1e" stroke-width="0.22">e</text>
<rect x="332.1" y="363.6" width="1.4" height="1.1" fill="#1e1e1e"/>
<text x="78.8" y="351.6" font-size="10.2" font-weight="bold" fill="#1e1e1e" stroke="#1e1e1e" stroke-width="0.22">h</text>
<text x="85.4" y="348.4" font-size="6.4" font-weight="bold" fill="#1e1e1e" stroke="#1e1e1e" stroke-width="0.22">+</text>
<text x="316.5" y="360.9" font-size="9.8" font-weight="bold" fill="#1e1e1e" textLength="24.6" lengthAdjust="spacingAndGlyphs" stroke="#1e1e1e" stroke-width="0.22">more</text>
<text x="129" y="8.3" text-anchor="middle" font-size="10.35" font-weight="bold" fill="#1e1e1e" stroke="#1e1e1e" stroke-width="0.22">zinc-blende reference</text>
<text x="392" y="8.3" text-anchor="middle" font-size="10.35" font-weight="bold" fill="#1e1e1e" stroke="#1e1e1e" stroke-width="0.22">layered-hexagonal reference</text>
<text x="0.4" y="22.2" font-size="10.3" font-weight="bold" fill="#1e1e1e" stroke="#1e1e1e" stroke-width="0.22">(a)</text>
<text x="264.9" y="22.1" font-size="10.3" font-weight="bold" fill="#1e1e1e" stroke="#1e1e1e" stroke-width="0.22">(b)</text>
<text x="0.4" y="237.8" font-size="10.3" font-weight="bold" fill="#1e1e1e" stroke="#1e1e1e" stroke-width="0.22">(c)</text>
<text x="264.9" y="237.9" font-size="10.3" font-weight="bold" fill="#1e1e1e" stroke="#1e1e1e" stroke-width="0.22">(d)</text>
</svg>
</body></html>
